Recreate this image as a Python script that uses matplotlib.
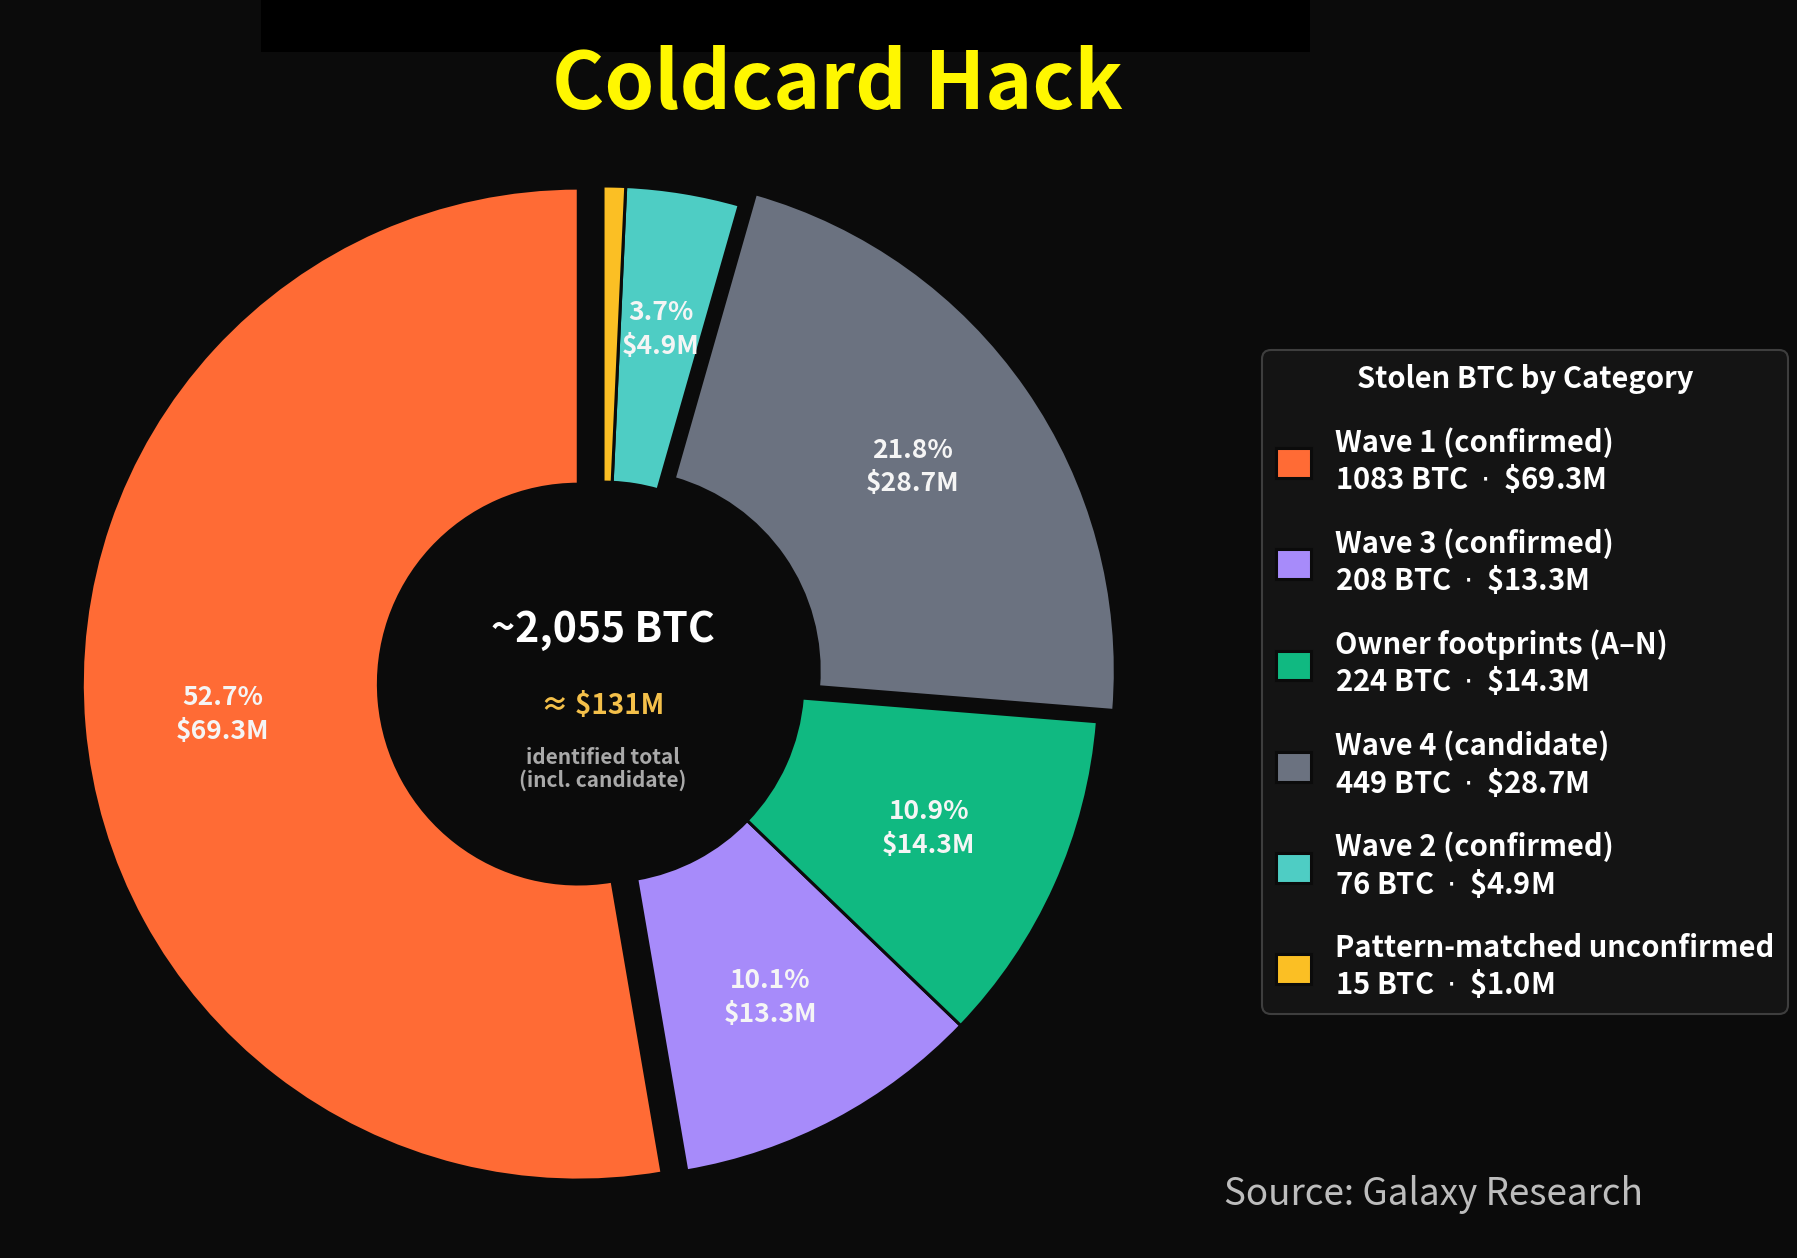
import matplotlib
matplotlib.use("Agg")
import matplotlib.pyplot as plt
from matplotlib.patches import Rectangle

plt.rcParams['font.family'] = ['Noto Sans CJK SC', 'DejaVu Sans']

categories = ["Wave 1 (confirmed)", "Wave 3 (confirmed)", "Owner footprints (A–N)",
              "Wave 4 (candidate)", "Wave 2 (confirmed)", "Pattern-matched unconfirmed"]
btc = [1083, 208, 224, 449, 76, 15]
usd_m = [69.3, 13.3, 14.3, 28.7, 4.9, 1.0]
colors = ["#FF6B35", "#A78BFA", "#10B981", "#6B7280", "#4ECDC4", "#FBBF24"]
explode = [0.05, 0, 0, 0.04, 0, 0]
total_btc_label = "~2,055 BTC"
total_usd_label = "≈ $131M"

BG = "#0b0b0b"
W, H = 1797, 1258
fig = plt.figure(figsize=(W / 100, H / 100), dpi=100, facecolor=BG)

def fx(x):
    return x / W

def fy(y):
    return 1 - y / H

# top black band
fig.patches.append(Rectangle((fx(261), fy(52)), (1310 - 261) / W, 52 / H,
                             transform=fig.transFigure, facecolor="black",
                             edgecolor="none", zorder=0))

# pie axes: centre (603, 682) px from top, radius 496 px
R = 496
L = 1.2
cx, cy = 603, 682
size = 2 * L * R
ax = fig.add_axes([fx(cx - L * R), fy(cy + L * R), size / W, size / H])
ax.set_facecolor("none")

def autopct(p):
    return "" if p < 2 else "x"

wedges, texts, autotexts = ax.pie(
    btc, colors=colors, explode=explode, startangle=90, counterclock=True,
    radius=1, pctdistance=0.72, autopct=autopct,
    wedgeprops=dict(width=0.597, edgecolor=BG, linewidth=2.2),
    textprops=dict(color="white", fontsize=19, fontweight="bold"))
total = sum(btc)
for t, v, u in zip(autotexts, btc, usd_m):
    if t.get_text():
        t.set_text(f"{100 * v / total:.1f}%\n${u:.1f}M")
        t.set_linespacing(1.3)
        t.set_color("#f5f5f5")
ax.set_xlim(-L, L)
ax.set_ylim(-L, L)
ax.set_aspect("equal")
ax.axis("off")

# title
fig.text(fx(837), fy(85), "Coldcard Hack", color="#FFF700", fontsize=57.5,
         fontweight="bold", ha="center", va="center")

# centre text
fig.text(fx(603), fy(630), total_btc_label, color="white", fontsize=29.5,
         fontweight="bold", ha="center", va="center")
fig.text(fx(603), fy(706), total_usd_label, color="#F4C04A", fontsize=20,
         fontweight="bold", ha="center", va="center")
fig.text(fx(603), fy(769), "identified total\n(incl. candidate)", color="#a9a9a9",
         fontsize=15, fontweight="bold", ha="center", va="center", linespacing=1.05)

# legend
labels = [f"{c}\n{b} BTC  $\\cdot$  \\${u:.1f}M" for c, b, u in zip(categories, btc, usd_m)]
leg = ax.legend(wedges, labels, title="Stolen BTC by Category",
                loc="upper left", bbox_to_anchor=(fx(1262), fy(350)),
                bbox_transform=fig.transFigure,
                prop=dict(size=21, weight="bold"),
                title_fontproperties=dict(size=21, weight="bold"),
                labelcolor="white", facecolor="#141414", edgecolor="#3e3e3e",
                framealpha=1, handlelength=1.2, handleheight=1.2,
                labelspacing=1.14, handletextpad=0.82, borderpad=0.47,
                borderaxespad=0)
leg.get_title().set_color("white")
for t in leg.get_texts():
    t.set_linespacing(1.16)
leg.get_frame().set_linewidth(1.5)
leg.get_frame().set_boxstyle("round,pad=0,rounding_size=0.3")

# source
fig.text(fx(1224), fy(1194), "Source: Galaxy Research", color="#bdbdbd",
         fontsize=26.5, ha="left", va="center")

fig.savefig("out.png", dpi=100, facecolor=BG)
